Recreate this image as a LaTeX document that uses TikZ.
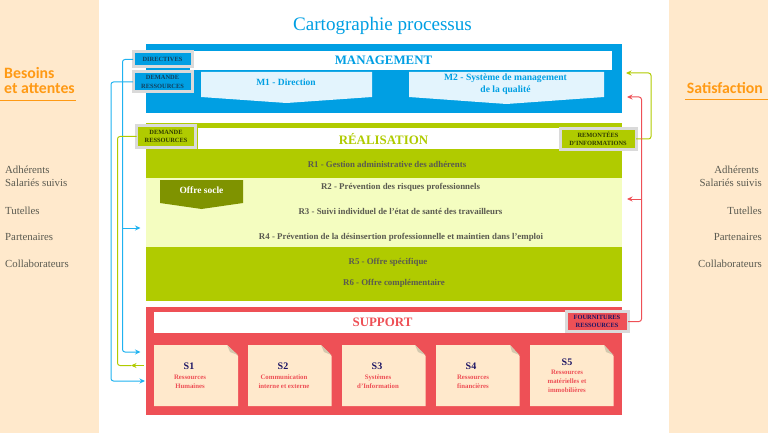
\documentclass[tikz,border=0pt]{standalone}
\usepackage{fontspec}
\setmainfont{Liberation Serif}
\newfontfamily\headfont{Carlito}
\usetikzlibrary{arrows.meta}
\definecolor{cblue}{HTML}{009FE3}
\definecolor{cline}{HTML}{1FB2F0}
\definecolor{cpale}{HTML}{E3F4FD}
\definecolor{cgreen}{HTML}{B0CB00}
\definecolor{clight}{HTML}{F4FDC0}
\definecolor{colive}{HTML}{7F9300}
\definecolor{cred}{HTML}{EE5056}
\definecolor{cside}{HTML}{FFE9CC}
\definecolor{cgrey}{HTML}{DADADA}
\definecolor{cfold}{HTML}{D3C8AE}
\definecolor{cnavy}{HTML}{1B1464}
\definecolor{corange}{HTML}{FF9A14}
\definecolor{ctext}{HTML}{5A5A50}
\definecolor{cdkblue}{HTML}{123F5C}
\definecolor{cdkgreen}{HTML}{2F3A00}
\tikzset{l/.style={font=\fontsize{10}{10}\selectfont\bfseries, text=cnavy, inner sep=0pt}}
\tikzset{m/.style={font=\fontsize{6.8}{8.8}\selectfont\bfseries, text=cred, align=center, inner sep=0pt}}
\tikzset{rline/.style={font=\fontsize{8.85}{10}\selectfont\bfseries, text=ctext, inner sep=0pt}}
\tikzset{band/.style={font=\fontsize{12.9}{14}\selectfont\bfseries, inner sep=0pt}}
\tikzset{tag/.style={font=\fontsize{6.4}{8.4}\selectfont\bfseries, align=center, inner sep=0pt, draw=cgrey, line width=3pt, outer sep=0pt}}
\tikzset{side/.style={font=\fontsize{10.8}{11}\selectfont, text=ctext, inner sep=0pt}}
\tikzset{lnk/.style={line width=1pt, rounded corners=2.5pt, -{Stealth[length=5.5pt,width=5pt]}}}

\begin{document}
\begin{tikzpicture}[x=1pt, y=-1pt]
  \useasboundingbox (0,0) rectangle (768,433);
  % side panels
  \fill[cside] (0,0) rectangle (99,433);
  \fill[cside] (669,0) rectangle (768,433);
  \node (title) at (382.5,26) [font=\fontsize{19.1}{19}\selectfont, text=cblue, inner sep=0pt] {Cartographie processus};

  \node (besoins) at (4,80.5) [anchor=west, font=\headfont\fontsize{15.8}{15.5}\selectfont\bfseries, text=corange, align=left, inner sep=0pt] {Besoins\\et attentes};
  \draw[corange, line width=.8pt] (0,100.5) -- (76,100.5);
  \node (satisf) at (763,88) [anchor=east, font=\headfont\fontsize{15.8}{15}\selectfont\bfseries, text=corange, inner sep=0pt] {Satisfaction};
  \draw[corange, line width=.6pt] (685,99.5) -- (768,99.5);

  \node (adhL) at (5,170) [side, anchor=west] {Adhérents};
  \node (salL) at (5,183) [side, anchor=west] {Salariés suivis};
  \node (tutL) at (5,210.5) [side, anchor=west] {Tutelles};
  \node (parL) at (5,236.5) [side, anchor=west] {Partenaires};
  \node (colL) at (5,263.5) [side, anchor=west] {Collaborateurs};
  \node (adhR) at (759,170) [side, anchor=east] {Adhérents};
  \node (salR) at (762,183) [side, anchor=east] {Salariés suivis};
  \node (tutR) at (762,210.5) [side, anchor=east] {Tutelles};
  \node (parR) at (762,236.5) [side, anchor=east] {Partenaires};
  \node (colR) at (762,263.5) [side, anchor=east] {Collaborateurs};

  % management
  \fill[cblue] (145.5,44) rectangle (622,113);
  \fill[white] (190,51) rectangle (612,70);
  \node (mgt) at (383.5,60.5) [band, text=cblue] {MANAGEMENT};
  \fill[cpale] (201,72) -- (372,72) -- (372,97) -- (286.5,103) -- (201,97) -- cycle;
  \fill[cpale] (409,72) -- (604,72) -- (604,97) -- (506.5,104) -- (409,97) -- cycle;
  \node (m1) at (286,82.5) [rline, text=cblue, font=\fontsize{9.5}{10}\selectfont\bfseries] {M1 - Direction};
  \node (m2) at (505.5,84) [text=cblue, inner sep=0pt, align=center, font=\fontsize{9.6}{11.5}\selectfont\bfseries] {M2 - Système de management\\de la qualité};

  % realisation
  \fill[cgreen] (145.5,123) rectangle (622,301);
  \fill[white] (198,128) rectangle (622,149);
  \fill[clight] (145.5,178) rectangle (622,247);
  \node (rea) at (383.5,139.5) [band, text=cgreen] {RÉALISATION};
  \fill[colive] (160,180) -- (243,180) -- (243,203) -- (201.5,209) -- (160,203) -- cycle;
  \node (socle) at (201.5,190.5) [font=\fontsize{9.5}{10}\selectfont\bfseries, text=white, inner sep=0pt] {Offre socle};
  \node (r1) at (387,164) [rline] {R1 - Gestion administrative des adhérents};
  \node (r2) at (400.5,187.5) [rline] {R2 - Prévention des risques professionnels};
  \node (r3) at (400.5,211.5) [rline] {R3 - Suivi individuel de l'état de santé des travailleurs};
  \node (r4) at (401,237) [rline] {R4 - Prévention de la désinsertion professionnelle et maintien dans l'emploi};
  \node (r5) at (388,262) [rline] {R5 - Offre spécifique};
  \node (r6) at (394,283.5) [rline] {R6 - Offre complémentaire};

  % support
  \fill[cred] (145.5,307) rectangle (622,415);
  \fill[white] (154,312) rectangle (622,333);
  \node (sup) at (382.5,322.5) [band, text=cred] {SUPPORT};

  \fill[cside] (154,345) -- (227,345) -- (238,356) -- (238,406) -- (154,406) -- cycle;
  \fill[cfold] (227,345) -- (238,355) -- (230,352) -- cycle;
  \fill[cside] (248,345) -- (321,345) -- (331.5,356) -- (331.5,406) -- (248,406) -- cycle;
  \fill[cfold] (321,345) -- (331.5,355) -- (324,352) -- cycle;
  \fill[cside] (342,345) -- (415,345) -- (425.5,356) -- (425.5,406) -- (342,406) -- cycle;
  \fill[cfold] (415,345) -- (425.5,355) -- (418,352) -- cycle;
  \fill[cside] (436,345) -- (510,345) -- (519.5,356) -- (519.5,406) -- (436,406) -- cycle;
  \fill[cfold] (510,345) -- (519.5,355) -- (512,352) -- cycle;
  \fill[cside] (530,345) -- (604,345) -- (613.5,356) -- (613.5,406) -- (530,406) -- cycle;
  \fill[cfold] (604,345) -- (613.5,355) -- (606,352) -- cycle;

  \node (s1) at (189,366.5) [l] {S1};
  \node (s2) at (283,366.5) [l] {S2};
  \node (s3) at (377,366.5) [l] {S3};
  \node (s4) at (471,366.5) [l] {S4};
  \node (s5) at (567,362) [l] {S5};
  \node (s1t) at (190,381.5) [m] {Ressources\\Humaines};
  \node (s2t) at (284,381.5) [m] {Communication\\interne et externe};
  \node (s3t) at (378,381.5) [m] {Systèmes\\d'Information};
  \node (s4t) at (473,381.5) [m] {Ressources\\financières};
  \node (s5t) at (567,381.5) [m] {Ressources\\matérielles et\\immobilières};

  % tags
  \node (directives) at (162.5,59.5) [tag, fill=cblue, text=cdkblue, minimum width=59pt, minimum height=15pt] {DIRECTIVES};
  \node (demM) at (162.5,82) [tag, fill=cblue, text=cdkblue, minimum width=59pt, minimum height=20pt] {DEMANDE\\RESSOURCES};
  \node (demR) at (166,136.5) [tag, fill=cgreen, text=cdkgreen, minimum width=59pt, minimum height=22pt] {DEMANDE\\RESSOURCES};
  \node (rem) at (598,139) [tag, fill=cgreen, text=cdkgreen, minimum width=76pt, minimum height=21pt] {REMONTÉES\\D'INFORMATIONS};
  \node (fou) at (597,321.5) [tag, fill=cred, text=cnavy, minimum width=62pt, minimum height=20pt] {FOURNITURES\\RESSOURCES};

  % connectors
  \coordinate (dirbend) at (122.5,352);
  \coordinate (dirtip) at (140.5,352);
  \coordinate (dirmid) at (122.5,228);
  \coordinate (dirtipb) at (140.5,228);
  \coordinate (dembend) at (111,381);
  \coordinate (demtip) at (145,381);
  \coordinate (gbend) at (117.5,365.5);
  \coordinate (gtip) at (131,365.5);
  \coordinate (gstart) at (144,365.5);
  \coordinate (rembend) at (651,73);
  \coordinate (remtip) at (626,73);
  \coordinate (foubend) at (641.5,97);
  \coordinate (foutip) at (627,97);
  \coordinate (foumid) at (641.5,199);
  \coordinate (foutipb) at (627,199);

  \draw[lnk, cline] (directives.west) -| (dirbend) -- (dirtip);
  \draw[lnk, cline, rounded corners=0pt] (dirmid) -- (dirtipb);
  \draw[lnk, cline] (demM.west) -| (dembend) -- (demtip);
  \draw[lnk, cgreen] (gstart) -- (gtip);
  \draw[line width=1pt, cgreen, rounded corners=2.5pt] (gtip) -- (gbend) |- (demR.west);
  \draw[lnk, cgreen] (rem.east) -| (rembend) -- (remtip);
  \draw[lnk, cred] (fou.east) -| (foubend) -- (foutip);
  \draw[lnk, cred, rounded corners=0pt] (foumid) -- (foutipb);
\end{tikzpicture}
\end{document}
